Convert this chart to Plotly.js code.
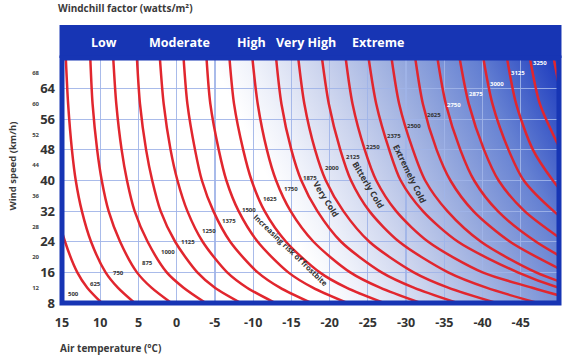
<!DOCTYPE html>
<html>
<head>
<meta charset="utf-8">
<script src="https://cdn.plot.ly/plotly-3.0.1.min.js"></script>
<style>html,body{margin:0;padding:0;background:#fff;}#chart{width:578px;height:359px;}</style>
</head>
<body>
<div id="chart"></div>
<script>
// Wind speed levels (km/h) at which each curve was read
const windSpeed = [72, 60, 48, 40, 32, 24, 16, 12, 8];
// Windchill factor of each curve (watts/m²)
const factors = [500, 625, 750, 875, 1000, 1125, 1250, 1375, 1500, 1625, 1750, 1875,
                 2000, 2125, 2250, 2375, 2500, 2625, 2750, 2875, 3000, 3125, 3250];
// Air temperature (°C) of each curve at the wind speeds above
const t500  = [17.4, 17.2, 16.7, 16.3, 15.7, 14.6, 13.0, 11.7, 9.8];
const t625  = [14.5, 14.2, 13.7, 13.2, 12.4, 11.2, 9.3, 7.7, 5.5];
const t750  = [11.3, 11.0, 10.4, 9.8, 8.9, 7.4, 5.2, 3.3, 0.7];
const t875  = [8.3, 7.9, 7.2, 6.5, 5.5, 3.8, 1.3, -0.9, -3.8];
const t1000 = [5.2, 4.8, 4.0, 3.2, 2.1, 0.2, -2.7, -5.0, -8.4];
const t1125 = [2.2, 1.7, 0.8, -0.1, -1.4, -3.4, -6.6, -9.2, -12.9];
const t1250 = [-0.9, -1.4, -2.4, -3.3, -4.8, -7.0, -10.6, -13.5, -17.6];
const t1375 = [-3.9, -4.4, -5.5, -6.5, -8.1, -10.6, -14.6, -17.8, -22.3];
const t1500 = [-6.9, -7.5, -8.7, -9.8, -11.5, -14.3, -18.7, -22.2, -27.1];
const t1625 = [-9.9, -10.6, -11.8, -13.0, -14.9, -17.9, -22.7, -26.6, -31.9];
const t1750 = [-13.0, -13.7, -15.0, -16.3, -18.4, -21.5, -26.8, -31.0, -36.7];
const t1875 = [-15.9, -16.7, -18.1, -19.5, -21.8, -25.2, -31.0, -35.5, -41.8];
const t2000 = [-19.0, -19.9, -21.4, -22.8, -25.2, -29.1, -35.5, -40.5, -47.2];
const t2125 = [-22.1, -23.0, -24.6, -26.1, -28.7, -32.9, -40.0, -46.5, -53.5];
const t2250 = [-25.1, -26.1, -27.8, -29.3, -32.2, -36.8, -44.6, -50.0, -58.5];
const t2375 = [-28.1, -29.1, -30.9, -32.5, -35.4, -39.8, -47.0, -52.5];
const t2500 = [-31.2, -32.2, -34.0, -35.8, -38.8, -43.6, -51.0];
const t2625 = [-34.1, -35.2, -37.1, -38.9, -42.0, -47.0, -54.0];
const t2750 = [-37.0, -38.2, -40.2, -42.1, -45.5, -50.8];
const t2875 = [-40.1, -41.3, -43.4, -45.4, -49.3, -54.5];
const t3000 = [-43.2, -44.4, -46.6, -49.2, -52.5];
const t3125 = [-46.2, -47.5, -50.2, -52.3];
const t3250 = [-49.3, -50.6, -53.0];
const curveTemps = [t500, t625, t750, t875, t1000, t1125, t1250, t1375, t1500, t1625, t1750, t1875,
                    t2000, t2125, t2250, t2375, t2500, t2625, t2750, t2875, t3000, t3125, t3250];

const xTicks = [15, 10, 5, 0, -5, -10, -15, -20, -25, -30, -35, -40, -45];
const yTicksMajor = [8, 16, 24, 32, 40, 48, 56, 64];
const yTicksMinor = [12, 20, 28, 36, 44, 52, 60, 68];
const bandNames = ['Low', 'Moderate', 'High', 'Very High', 'Extreme'];
const bandCentres = [9.5, -0.4, -9.8, -16.9, -26.3];
const zoneNames = ['Increasing risk of frostbite', 'Very Cold', 'Bitterly Cold', 'Extremely Cold'];

const BLUE = '#1735b4';
const RED = '#e1262e';
const FONT = 'Open Sans, sans-serif';

const traces = factors.map((f, i) => ({
  type: 'scatter', mode: 'lines',
  x: curveTemps[i], y: windSpeed.slice(0, curveTemps[i].length),
  line: {color: RED, width: 2.5, shape: 'spline', smoothing: 0.8},
  hoverinfo: 'skip', showlegend: false
}));
traces.push({type: 'scatter', mode: 'markers', x: [0], y: [40], yaxis: 'y2',
  marker: {opacity: 0}, hoverinfo: 'skip', showlegend: false});

function interpT(temps, v) {
  for (let j = 0; j < temps.length - 1; j++) {
    const a = windSpeed[j], b = windSpeed[j + 1];
    if (v <= a && v >= b) return temps[j] + (temps[j + 1] - temps[j]) * (a - v) / (a - b);
  }
  return temps[temps.length - 1];
}

const annotations = [];
factors.forEach((f, k) => {
  const v = 10.3 + 2.75 * k;
  annotations.push({
    x: interpT(curveTemps[k], v), y: v, xref: 'x', yref: 'y',
    text: String(f), showarrow: false, xanchor: 'right', yanchor: 'middle',
    xshift: k < 3 ? -12 : -6,
    font: {family: FONT, size: 6, color: k >= 18 ? '#ffffff' : '#333333', weight: 700}
  });
});
bandNames.forEach((n, i) => annotations.push({
  x: bandCentres[i], y: 1.062, xref: 'x', yref: 'paper', text: n, showarrow: false,
  xanchor: 'center', yanchor: 'middle',
  font: {family: FONT, size: 12.5, color: '#ffffff', weight: 700}
}));
const zonePos = [[-14.9, 21.8, 44, 7.5], [-19.5, 35.2, 58, 8.5], [-25.05, 38.9, 59, 8.5], [-30.5, 41.8, 64, 8.5]];
zoneNames.forEach((n, i) => annotations.push({
  x: zonePos[i][0], y: zonePos[i][1], xref: 'x', yref: 'y', text: n, showarrow: false,
  textangle: zonePos[i][2], xanchor: 'center', yanchor: 'middle',
  font: {family: FONT, size: zonePos[i][3], color: '#333333', weight: 700}
}));
annotations.push({
  x: -0.0996, y: 0.559, xref: 'paper', yref: 'paper', text: 'Wind speed (km/h)',
  textangle: -90, showarrow: false, xanchor: 'center', yanchor: 'middle',
  font: {family: FONT, size: 9.5, color: '#3a3a3a', weight: 700}
});
annotations.push({
  x: -0.008, y: -0.184, xref: 'paper', yref: 'paper', text: 'Air temperature (°C)',
  showarrow: false, xanchor: 'left', yanchor: 'middle',
  font: {family: FONT, size: 10, color: '#3a3a3a', weight: 700}
});

const svg = "<svg xmlns='http://www.w3.org/2000/svg' width='500' height='250' viewBox='0 0 500 250' preserveAspectRatio='none'>" +
  "<defs><linearGradient id='g' x1='0.3' y1='0' x2='0.946' y2='-0.149'>" +
  "<stop offset='0' stop-color='#ffffff'/><stop offset='0.12' stop-color='#eef1fa'/>" +
  "<stop offset='0.3' stop-color='#cdd5ee'/><stop offset='0.55' stop-color='#97aade'/>" +
  "<stop offset='0.78' stop-color='#6480d2'/><stop offset='1' stop-color='#2442c0'/>" +
  "</linearGradient></defs>" +
  "<rect width='500' height='250' fill='url(#g)'/></svg>";
const bgImage = 'data:image/svg+xml;charset=utf-8,' + encodeURIComponent(svg);

const layout = {
  width: 578, height: 359,
  margin: {l: 62, r: 19, t: 58, b: 56, pad: 0},
  paper_bgcolor: '#ffffff', plot_bgcolor: 'rgba(0,0,0,0)',
  font: {family: FONT, color: '#333333'},
  title: {text: 'Windchill factor (watts/m²)', x: 0.1003, xanchor: 'left', y: 0.976, yanchor: 'middle',
          xref: 'container', yref: 'container',
          font: {family: FONT, size: 10, color: '#3a3a3a', weight: 700}},
  xaxis: {range: [15, -50], tickvals: xTicks, ticktext: xTicks.map(String),
          showgrid: true, gridcolor: 'rgba(160,180,232,0.9)', gridwidth: 1.2,
          zeroline: false, showline: false, ticks: '', ticklabelstandoff: 10,
          tickfont: {family: FONT, size: 12.5, color: '#333333', weight: 700}},
  yaxis: {range: [8, 72], tickvals: yTicksMajor, ticktext: yTicksMajor.map(String),
          showgrid: true, gridcolor: 'rgba(160,180,232,0.9)', gridwidth: 1.2,
          zeroline: false, showline: false, ticks: '', ticklabelstandoff: 6,
          tickfont: {family: FONT, size: 13, color: '#333333', weight: 700}},
  yaxis2: {overlaying: 'y', side: 'left', range: [8, 72], tickvals: yTicksMinor,
           ticktext: yTicksMinor.map(String), showgrid: false, zeroline: false,
           showline: false, ticks: '', ticklabelstandoff: 22,
           tickfont: {family: FONT, size: 6, color: '#444444', weight: 700}},
  images: [{source: bgImage, xref: 'paper', yref: 'paper', x: 0, y: 1, sizex: 1, sizey: 1,
            xanchor: 'left', yanchor: 'top', sizing: 'stretch', layer: 'below'}],
  shapes: [
    {type: 'rect', xref: 'paper', yref: 'paper', x0: -0.005, x1: 1.005, y0: 1, y1: 1.1347,
     fillcolor: BLUE, line: {width: 0}, layer: 'above'},
    {type: 'rect', xref: 'paper', yref: 'paper', x0: 0, x1: 1, y0: 0, y1: 1,
     fillcolor: 'rgba(0,0,0,0)', line: {color: BLUE, width: 5}, layer: 'above'}
  ],
  annotations: annotations,
  showlegend: false
};

Plotly.newPlot('chart', traces, layout, {displayModeBar: false, staticPlot: true});
</script>
</body>
</html>
